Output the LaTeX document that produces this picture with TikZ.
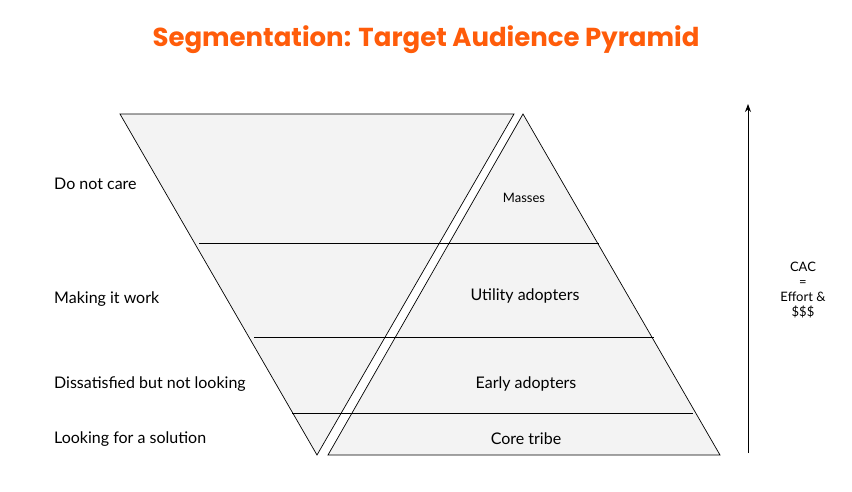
\documentclass[tikz,border=0pt]{standalone}
\usepackage{fontspec}
\setmainfont{Lato}
\newfontfamily\titlefont{Poppins}
\usetikzlibrary{arrows.meta}
\definecolor{ttl}{HTML}{FF5C0A}
\definecolor{fillg}{HTML}{F3F3F3}
\begin{document}
\begin{tikzpicture}[x=1pt,y=-1pt,
  tri/.style={draw=black,fill=fillg,line width=0.7pt,line join=miter},
  band/.style={draw=black,line width=0.7pt},
  lbl/.style={font=\fontsize{16}{18}\selectfont,anchor=west,inner sep=0},
  inlbl/.style={font=\fontsize{16}{18}\selectfont,inner sep=0}]
\useasboundingbox (0,0) rectangle (852,491);
\node[font=\titlefont\bfseries\fontsize{26}{30}\selectfont,text=ttl] (title) at (426,40) {Segmentation: Target Audience Pyramid};
\draw[tri] (120,114) -- (514,114) -- (317,455) -- cycle;
\draw[tri] (523,114) -- (720,455) -- (328,455) -- cycle;
\coordinate (a1) at (199,243); \coordinate (a2) at (599,243);
\coordinate (b1) at (254,337); \coordinate (b2) at (654,337);
\coordinate (c1) at (292,413); \coordinate (c2) at (693,413);
\draw[band] (a1) -- (a2); \draw[band] (b1) -- (b2); \draw[band] (c1) -- (c2);
\node[lbl] (l1) at (54,184) {Do not care};
\node[lbl] (l2) at (54,299) {Making it work};
\node[lbl] (l3) at (54,384) {Dissatisfied but not looking};
\node[lbl] (l4) at (54,439) {Looking for a solution};
\node[inlbl,font=\fontsize{13}{15}\selectfont] (m) at (524,198) {Masses};
\node[inlbl] (u) at (525,296) {Utility adopters};
\node[inlbl] (e) at (526,384) {Early adopters};
\node[inlbl] (c) at (526,439) {Core tribe};
\coordinate (ab) at (748,453); \coordinate (at) at (748,104);
\draw[line width=0.8pt,-{Stealth[length=8pt,width=6pt]}] (ab) -- (at);
\node[font=\fontsize{13}{15}\selectfont,align=center] (cac) at (803,290) {CAC\\=\\Effort \&\\\$\$\$};
\end{tikzpicture}
\end{document}
